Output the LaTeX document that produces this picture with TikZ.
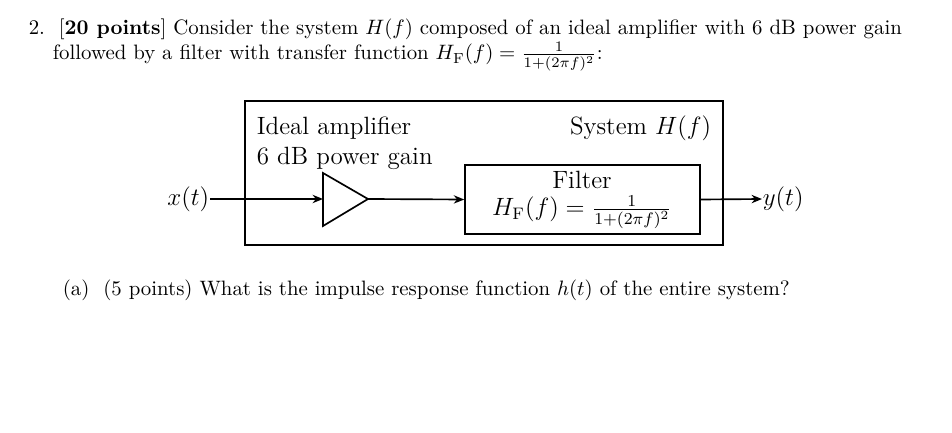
\documentclass[tikz,border=0pt]{standalone}
\usetikzlibrary{arrows.meta}
\begin{document}
\begin{tikzpicture}[x=0.48pt,y=-0.48pt,
  line width=0.8pt,
  sig/.style={-{Stealth[length=5pt,width=4pt]}},
  txt/.style={inner sep=0pt,font=\large},
  para/.style={inner sep=0pt,anchor=base west}]
\useasboundingbox (0,0) rectangle (952,433);
\node[para] (l1) at (28,35) {2.\ \ [\textbf{20 points}] Consider the system $H(f)$ composed of an ideal amplifier with 6 dB power gain};
\node[para] (l2) at (52,60) {followed by a filter with transfer function $H_{\mathrm{F}}(f)=\frac{1}{1+(2\pi f)^2}$:};
\node[para] (qa) at (62,296) {(a)\ \ (5 points) What is the impulse response function $h(t)$ of the entire system?};
\draw (245,101) rectangle (723,245);
\node[draw,minimum width=235*0.48pt,minimum height=69*0.48pt,inner sep=0pt] (filt) at (582.5,199.5) {};
\node[txt] (ftitle) at (582,180) {Filter};
\node[txt] (fexpr) at (582,212) {$H_{\mathrm{F}}(f)=\frac{1}{1+(2\pi f)^2}$};
\draw (323,173) coordinate (tA) -- (368,199) coordinate (tip) -- (323,226) -- cycle;
\coordinate (tin) at (323,199);
\node[txt,anchor=base west] (ia) at (256,135) {Ideal amplifier};
\node[txt,anchor=base west] (pg) at (256,165) {6 dB power gain};
\node[txt,anchor=base east] (sys) at (712,135) {System $H(f)$};
\node[txt,anchor=east] (x) at (210,199) {$x(t)$};
\node[txt,anchor=west] (y) at (762,199) {$y(t)$};
\draw[sig] (x.east) -- (tin);
\draw[sig] (tip) -- (filt.west);
\draw[sig] (filt.east) -- (y.west);
\end{tikzpicture}
\end{document}
